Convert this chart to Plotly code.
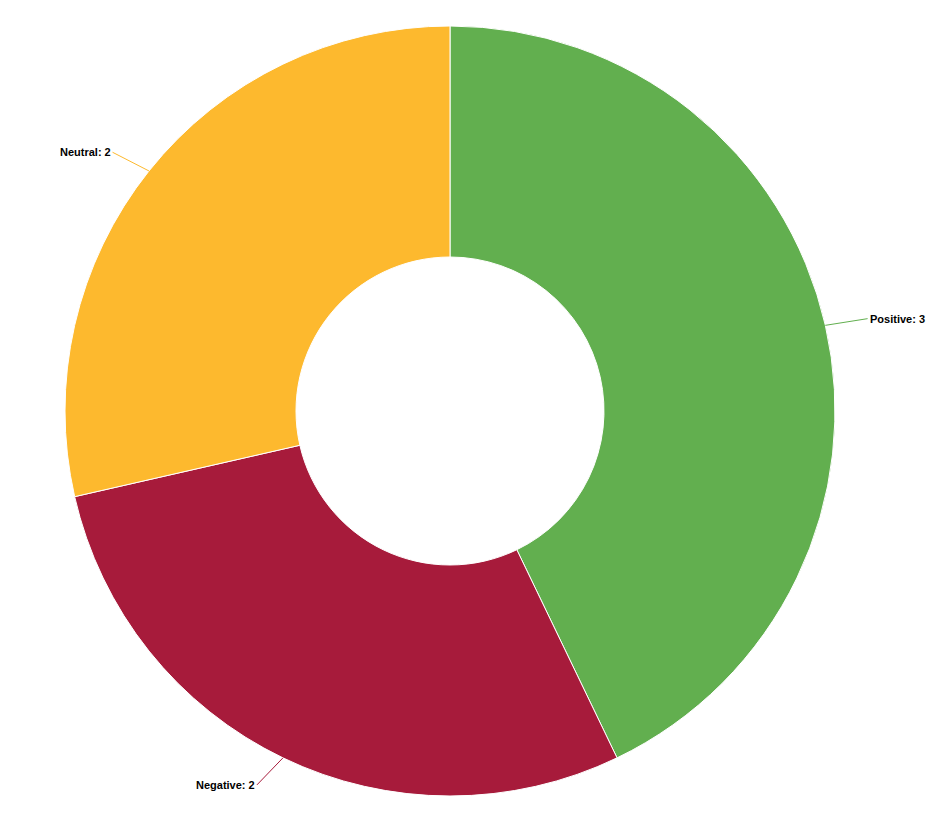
import math
import plotly.graph_objects as go

# Sentiment counts, in drawing order (clockwise from 12 o'clock)
labels = ['Positive', 'Negative', 'Neutral']
values = [3, 2, 2]
colors = ['#62AF4F', '#A71B3B', '#FDB92E']

# the page body adds an 8px margin, so the figure is a bit smaller than the window
W, H = 928, 829
margin = dict(l=57, r=101, t=18, b=41)

fig = go.Figure(go.Pie(
    labels=labels,
    values=values,
    marker=dict(colors=colors, line=dict(color='white', width=1)),
    hole=0.4,
    sort=False,
    direction='clockwise',
    rotation=0,
    textinfo='none',
    hoverinfo='label+value',
    showlegend=False,
))

# outside labels with connector lines, placed at each slice's mid angle
total = sum(values)
cum = 0
annotations = []
for lab, val, col in zip(labels, values, colors):
    mid = (cum + val / 2) / total * 2 * math.pi
    cum += val
    s, c = math.sin(mid), math.cos(mid)
    tip_x = 0.5 + 0.5 * s
    tip_y = 0.5 + 0.5 * c
    d = 30
    side = 1 if s >= 0 else -1
    ax = d * s + side * 13
    ay = -d * c
    annotations.append(dict(
        x=tip_x, y=tip_y, xref='paper', yref='paper',
        text=f'<b>{lab}: {val}</b>',
        showarrow=True, arrowhead=0, arrowwidth=1, arrowcolor=col,
        ax=ax, ay=ay, standoff=0,
        xanchor='left' if side > 0 else 'right',
        yanchor='middle',
        font=dict(family='Liberation Sans, Arial, sans-serif', size=11, color='black'),
    ))

fig.update_layout(
    width=W, height=H,
    margin=margin,
    paper_bgcolor='white',
    plot_bgcolor='white',
    annotations=annotations,
)

fig.write_html("out.html")
